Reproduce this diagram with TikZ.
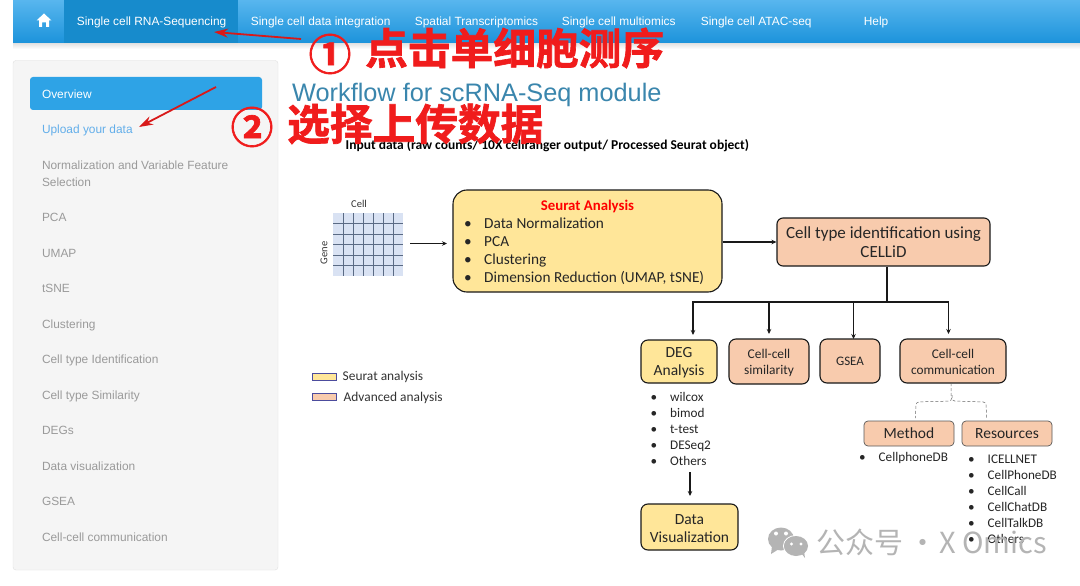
\documentclass[tikz,border=0pt]{standalone}
\usepackage{fontspec}
\setmainfont{Liberation Sans}
\newfontfamily\calib{Carlito}
\newfontfamily\cjk{Noto Sans CJK SC}
\newfontfamily\cjkfat{Noto Sans CJK SC Bold}[FakeBold=1.5]
\usetikzlibrary{arrows.meta}
\definecolor{navtop}{HTML}{58B6EE}
\definecolor{navbot}{HTML}{1C93DB}
\definecolor{navact}{HTML}{178BCC}
\definecolor{pill}{HTML}{2EA3E6}
\definecolor{menugray}{HTML}{9A9A9A}
\definecolor{linkblue}{HTML}{62AEEA}
\definecolor{titleblue}{HTML}{3A86AD}
\definecolor{seuratfill}{HTML}{FFE699}
\definecolor{advfill}{HTML}{F8CBAD}
\definecolor{gridfill}{HTML}{D9E2F3}
\definecolor{gridline}{HTML}{5A6A84}
\definecolor{markred}{HTML}{F01C1C}
\definecolor{wmgray}{HTML}{B4B4B4}
\newcommand{\px}[1]{\fontsize{#1}{#1}\selectfont}
\newcommand{\bitem}[1]{\makebox[19.5pt][l]{•}#1}
\tikzset{
  navlabel/.style={anchor=west, text=white, font=\px{11.9}, text height=9pt, text depth=2pt},
  menulabel/.style={anchor=west, text=menugray, font=\px{11.9}, text height=9pt, text depth=2pt},
  box/.style={draw=black!90, line width=1.1pt, rounded corners=7pt, align=center, text=black!85, font=\calib\px{15}},
  seurat/.style={box, fill=seuratfill},
  adv/.style={box, fill=advfill},
  subbox/.style={draw=black!65, line width=0.7pt, fill=advfill, rounded corners=4pt, text=black!85, font=\calib\px{15.5}},
  listing/.style={anchor=north west, align=left, text=black!85, font=\calib\fontsize{13.2}{16}\selectfont},
  flow/.style={-{Stealth[length=5pt,width=4.5pt]}, line width=1.25pt, black!90},
  redmark/.style={text=markred, font=\cjkfat\px{42.7}, inner sep=0pt},
  redarrow/.style={-{Stealth[length=14pt,width=9pt]}, line width=1.8pt, markred!90!black},
}
\begin{document}
\begin{tikzpicture}[x=1pt,y=-1pt]
  \useasboundingbox (0,0) rectangle (1080,586);
  \fill[white] (0,0) rectangle (1080,586);

  % top bar
  \shade[top color=black!12, bottom color=white] (13,43) rectangle (1080,49);
  \shade[top color=navtop, bottom color=navbot] (13,0) rectangle (1080,43);
  \fill[navact] (64,0) rectangle (238,43);
  \fill[white] (44,13.5) -- (51.5,20.5) -- (49,20.5) -- (49,27) -- (46,27) -- (46,22.5) -- (42,22.5) -- (42,27) -- (39,27) -- (39,20.5) -- (36.5,20.5) -- cycle;
  \node[navlabel] (nav1) at (73.3,22) {Single cell RNA-Sequencing};
  \node[navlabel] (nav2) at (247.3,22) {Single cell data integration};
  \node[navlabel] (nav3) at (411.3,22) {Spatial Transcriptomics};
  \node[navlabel] (nav4) at (558.3,22) {Single cell multiomics};
  \node[navlabel] (nav5) at (697.3,22) {Single cell ATAC-seq};
  \node[navlabel] (nav6) at (860.3,22) {Help};

  % side menu
  \draw[black!12, fill=black!4, rounded corners=3pt] (13,60.5) rectangle (278,570);
  \fill[pill, rounded corners=3pt] (30,77) rectangle (262,110);
  \node[navlabel] (overview) at (38.5,95) {Overview};
  \node[menulabel, text=linkblue] (upload) at (38.5,130) {Upload your data};
  \node[anchor=west, text=menugray, align=left, font=\fontsize{11.9}{17}\selectfont] (norm) at (38.5,173.5) {Normalization and Variable Feature\\Selection};
  \node[menulabel] (pca) at (38.5,218) {PCA};
  \node[menulabel] (umap) at (38.5,253.5) {UMAP};
  \node[menulabel] (tsne) at (38.5,289) {tSNE};
  \node[menulabel] (clust) at (38.5,324.5) {Clustering};
  \node[menulabel] (ident) at (38.5,360) {Cell type Identification};
  \node[menulabel] (simil) at (38.5,395.5) {Cell type Similarity};
  \node[menulabel] (degs) at (38.5,431) {DEGs};
  \node[menulabel] (dataviz) at (38.5,466.5) {Data visualization};
  \node[menulabel] (gsea) at (38.5,502) {GSEA};
  \node[menulabel] (ccc) at (38.5,537.5) {Cell-cell communication};

  \node[anchor=west, text=titleblue, font=\px{25.3}, inner sep=0pt] (title) at (292,94.5) {Workflow for scRNA-Seq module};
  \node[anchor=west, text=black, font=\calib\bfseries\px{13.5}, inner sep=0pt] (input) at (345.5,145.5) {Input data (raw counts/ 10X cellranger output/ Processed Seurat object)};

  % count matrix
  \pgfmathsetmacro{\xm}{333}
  \pgfmathsetmacro{\ym}{213}
  \fill[gridfill] (\xm,\ym) rectangle (\xm+70,\ym+63);
  \foreach \i in {1,...,6} \draw[gridline, line width=0.45pt] (\xm+10*\i,\ym) -- (\xm+10*\i,\ym+63);
  \foreach \j in {1,...,5} \draw[gridline, line width=0.45pt] (\xm,\ym+10.5*\j) -- (\xm+70,\ym+10.5*\j);
  \node[text=black!80, font=\calib\px{10.5}, inner sep=0pt] (celltxt) at (359,204) {Cell};
  \node[text=black!80, font=\calib\px{10.5}, inner sep=0pt, rotate=90] (genetxt) at (324,253) {Gene};
  \coordinate (mright) at (410,243.5);

  % boxes
  \node[seurat, minimum width=269pt, minimum height=102pt, rounded corners=14pt] (seuratbox) at (587.5,241) {};
  \node[text=red, font=\calib\bfseries\px{14.8}, inner sep=0pt] (seurathead) at (587.5,206) {Seurat Analysis};
  \node[listing, anchor=north west, font=\calib\fontsize{15.3}{18}\selectfont, inner sep=0pt] (seuratlist) at (464,217.5) {\makebox[20pt][l]{•}Data Normalization\\\makebox[20pt][l]{•}PCA\\\makebox[20pt][l]{•}Clustering\\\makebox[20pt][l]{•}Dimension Reduction (UMAP, tSNE)};
  \node[adv, minimum width=213pt, minimum height=48pt, rounded corners=6pt, font=\calib\fontsize{17}{19.5}\selectfont] (celltype) at (883.5,242) {Cell type identification using\\CELLiD};

  \node[seurat, minimum width=76pt, minimum height=43pt, inner sep=0pt] (deg) at (679,361.5) {};
  \node[text=black!85, align=center, font=\calib\fontsize{15.5}{18}\selectfont, inner sep=0pt] (degtxt) at (679,363) {DEG\\Analysis};
  \node[adv, minimum width=80pt, minimum height=45pt, inner sep=0pt] (simbox) at (769,361.5) {};
  \node[text=black!85, align=center, font=\calib\fontsize{13.4}{16}\selectfont, inner sep=0pt] (simtxt) at (769,362.5) {Cell-cell\\similarity};
  \node[adv, minimum width=60pt, minimum height=44pt, inner sep=0pt, font=\calib\px{13}] (gseabox) at (850,361) {GSEA};
  \node[adv, minimum width=106pt, minimum height=44pt, inner sep=0pt] (commbox) at (953,361) {};
  \node[text=black!85, align=center, font=\calib\fontsize{13.3}{16}\selectfont, inner sep=0pt] (commtxt) at (953,362) {Cell-cell\\communication};
  \node[subbox, minimum width=90pt, minimum height=25pt, inner sep=0pt] (method) at (909,433.5) {Method};
  \node[subbox, minimum width=90pt, minimum height=25pt, inner sep=0pt] (resources) at (1007,433.5) {Resources};
  \node[seurat, minimum width=97pt, minimum height=46pt, inner sep=0pt] (dataviz2) at (689.5,527) {};
  \node[text=black!85, align=center, font=\calib\fontsize{15.5}{18}\selectfont, inner sep=0pt] (viztxt) at (689.5,528.5) {Data\\Visualization};

  % lists
  \node[listing, inner sep=0pt] (deglist) at (650.5,392.5) {\bitem{wilcox}\\\bitem{bimod}\\\bitem{t-test}\\\bitem{DESeq2}\\\bitem{Others}};
  \node[listing, inner sep=0pt] (methlist) at (859,452.5) {\bitem{CellphoneDB}};
  \node[listing, inner sep=0pt] (reslist) at (968,454.5) {\bitem{ICELLNET}\\\bitem{CellPhoneDB}\\\bitem{CellCall}\\\bitem{CellChatDB}\\\bitem{CellTalkDB}\\\bitem{Others}};

  % connectors
  \coordinate (mleft) at (447,243.5);
  \draw[flow] (mright) -- (mleft);
  \draw[flow] (seuratbox.east |- celltype.west) -- (celltype.west);
  \coordinate (split) at (887,302);
  \draw[line width=1.25pt, black!90] (celltype.south -| split) -- (split);
  \draw[flow] (split) -- (693,302) -- (693,335);
  \coordinate (s1) at (769,302);
  \coordinate (s2) at (853.5,302);
  \coordinate (s3) at (948.5,302);
  \draw[flow] (s1) -- (s1 |- 0,334);
  \draw[flow] (s2) -- (s2 |- 0,339);
  \draw[flow] (split) -- (s3) -- (s3 |- 0,334);
  \coordinate (v1) at (690,472);
  \draw[flow] (v1) -- (690,496);
  \coordinate (c0) at (951,383);
  \draw[black!60, densely dashed, line width=0.5pt, rounded corners=3pt] (c0) -- (951,395) -- (952,401) -- (916,402) -- (915.5,418);
  \draw[black!60, densely dashed, line width=0.5pt, rounded corners=3pt] (952,395) -- (952,401) -- (986,402) -- (986.5,418);

  % legend
  \draw[blue!45!black!70, fill=seuratfill, line width=0.7pt] (312.5,373) rectangle (336.5,380);
  \draw[blue!45!black!70, fill=advfill, line width=0.7pt] (312.5,393.5) rectangle (336.5,400);
  \node[anchor=west, text=black!80, font=\calib\px{13.4}, inner sep=0pt] (leg1) at (342.5,377) {Seurat analysis};
  \node[anchor=west, text=black!80, font=\calib\px{13.4}, inner sep=0pt] (leg2) at (343.5,397.5) {Advanced analysis};

  % red marks
  \node[redmark, anchor=center] (num1) at (330,54) {①};
  \node[redmark, anchor=west] (mark1) at (365,48) {点击单细胞测序};
  \node[redmark, anchor=center] (num2) at (252,127) {②};
  \node[redmark, anchor=west] (mark2) at (287,124) {选择上传数据};
  \coordinate (a1) at (301,39);
  \coordinate (b1) at (214,32);
  \coordinate (a2) at (216,87);
  \coordinate (b2) at (139,127);
  \draw[redarrow] (a1) -- (b1);
  \draw[redarrow] (a2) -- (b2);

  % watermark
  \fill[wmgray] (781,539) ellipse (13pt and 11.5pt);
  \fill[wmgray] (772,546) -- (771,554) -- (779,549) -- cycle;
  \fill[white] (776,533.5) circle (2pt);
  \fill[white] (786,533.5) circle (2pt);
  \draw[white, line width=1pt] (796,546) ellipse (12.5pt and 10.5pt);
  \fill[wmgray] (796,546) ellipse (12pt and 10pt);
  \fill[wmgray] (801,553) -- (805,558) -- (804,551) -- cycle;
  \fill[white] (791.5,544) circle (1.6pt);
  \fill[white] (801,544) circle (1.6pt);
  \node[anchor=west, text=wmgray, font=\cjk\px{29}, inner sep=0pt] (wm) at (816,542) {公众号\hspace{5pt}·\hspace{2pt}X Omics};
\end{tikzpicture}
\end{document}
